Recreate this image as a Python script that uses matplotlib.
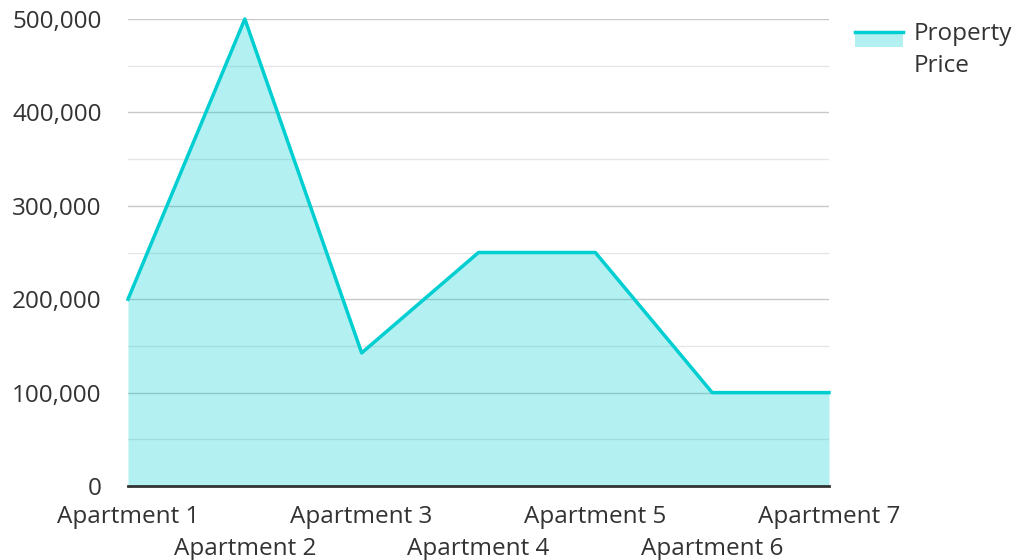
import matplotlib.pyplot as plt
from matplotlib.patches import Rectangle
from matplotlib.lines import Line2D
from matplotlib.legend_handler import HandlerBase
from matplotlib.ticker import FuncFormatter, MultipleLocator

plt.rcParams['font.family'] = ['Open Sans', 'DejaVu Sans']

apartments = ['Apartment 1', 'Apartment 2', 'Apartment 3', 'Apartment 4',
              'Apartment 5', 'Apartment 6', 'Apartment 7']
prices = [200000, 500000, 142500, 250000, 250000, 100000, 100000]

line_color = '#00CED1'
text_color = '#333333'
fs = 17.5


class AreaHandler(HandlerBase):
    # line on top of a filled box, like the area series itself
    def create_artists(self, legend, orig_handle, xdescent, ydescent,
                       width, height, fontsize, trans):
        off = height * 0.75
        rect = Rectangle((-xdescent, -ydescent + off), width, height,
                         facecolor=line_color, alpha=0.3, edgecolor='none',
                         transform=trans)
        top = -ydescent + off + height
        ln = Line2D([-xdescent, -xdescent + width], [top, top],
                    color=line_color, lw=2.5, transform=trans)
        return [rect, ln]


fig = plt.figure(figsize=(10.18, 5.6), dpi=100)
ax = fig.add_axes([128 / 1018, 1 - 486 / 560, (829 - 128) / 1018, (486 - 19) / 560])

x = list(range(len(apartments)))
ax.fill_between(x, prices, color=line_color, alpha=0.3, lw=0, zorder=1)
ax.plot(x, prices, color=line_color, lw=2.5, zorder=3, clip_on=False)

ax.set_xlim(0, len(apartments) - 1)
ax.set_ylim(0, 500000)
ax.yaxis.set_major_locator(MultipleLocator(100000))
ax.yaxis.set_minor_locator(MultipleLocator(50000))
ax.yaxis.set_major_formatter(FuncFormatter(lambda v, p: f'{int(v):,}'))
ax.set_axisbelow(True)
ax.grid(axis='y', which='major', color='#c8c8c8', lw=1)
ax.grid(axis='y', which='minor', color='#e6e6e6', lw=1)

ax.set_xticks(x)
ax.set_xticklabels(apartments)
ax.tick_params(axis='x', length=0, labelsize=fs, labelcolor=text_color)
ax.tick_params(axis='y', which='both', length=0, pad=19, labelsize=fs, labelcolor=text_color)
# stagger the category labels on two rows
for i, t in enumerate(ax.xaxis.get_major_ticks()):
    t.set_pad(14 if i % 2 == 0 else 36.5)

for s in ['top', 'right', 'left']:
    ax.spines[s].set_visible(False)
ax.spines['bottom'].set_color('#333333')
ax.spines['bottom'].set_linewidth(2)
ax.spines['bottom'].set_zorder(4)

leg = fig.legend([object()], ['Property\nPrice'], handler_map={object: AreaHandler()},
                 loc='upper left', bbox_to_anchor=(848 / 1018, 1 - 15 / 560),
                 frameon=False, fontsize=fs, labelcolor=text_color,
                 handlelength=1.97, handleheight=0.55, handletextpad=0.45,
                 borderaxespad=0, borderpad=0.3)
leg.get_texts()[0].set_linespacing(1.45)

fig.savefig('out.png', dpi=100)
